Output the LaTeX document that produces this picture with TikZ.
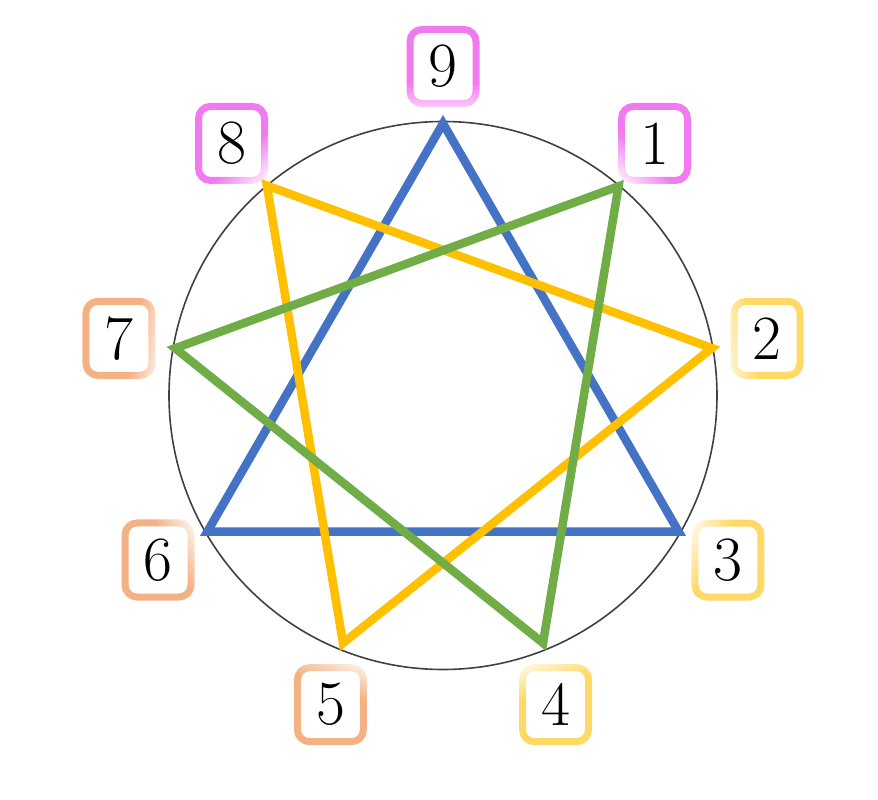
\documentclass[tikz,border=0pt]{standalone}
\usetikzlibrary{fadings}
\pgfdeclareverticalshading{edgefadeshade}{100bp}{color(0bp)=(pgftransparent!100); color(15bp)=(pgftransparent!100); color(40bp)=(pgftransparent!0); color(100bp)=(pgftransparent!0)}
\pgfdeclarefading{edgefade}{\pgfuseshading{edgefadeshade}}
\definecolor{cmag}{RGB}{242,122,240}
\definecolor{cgold}{RGB}{255,217,102}
\definecolor{csal}{RGB}{244,177,131}
\definecolor{cblue}{RGB}{68,114,196}
\definecolor{cyel}{RGB}{255,192,0}
\definecolor{cgreen}{RGB}{112,173,71}
\tikzset{
  lab/.style={inner sep=0pt, font=\fontsize{63}{63}\selectfont},
  star/.style={line width=8.5pt, line join=miter},
}
\begin{document}
\begin{tikzpicture}[x=1pt,y=1pt]
\useasboundingbox (-443,-404.5) rectangle (435,395.5);
\draw[line width=1.6pt, black!75] (0,0) circle (274);
\foreach \i/\a/\r in {1/50/273,2/10/273,3/-30/272,4/-68/267,5/-112/267,6/-150/272,7/170/272,8/130/274,9/90/272} {
  \coordinate (p\i) at (\a:\r);
}
\draw[star, cblue] (p9) -- (p3) -- (p6) -- cycle;
\draw[star, cyel] (p8) -- (p2) -- (p5) -- cycle;
\draw[star, cgreen] (p1) -- (p4) -- (p7) -- cycle;
\foreach \i/\c in {9/cmag,8/cmag,1/cmag,2/cgold,3/cgold,4/cgold,5/csal,6/csal,7/csal} {
  \node[lab] (l\i) at ({90-40*\i}:329) {\i};
  \draw[\c, line width=7pt, rounded corners=12pt, path fading=edgefade, fading angle={-40*\i}]
    ([shift={(-33,-37)}]l\i.center) rectangle ([shift={(33,37)}]l\i.center);
}
\end{tikzpicture}
\end{document}
